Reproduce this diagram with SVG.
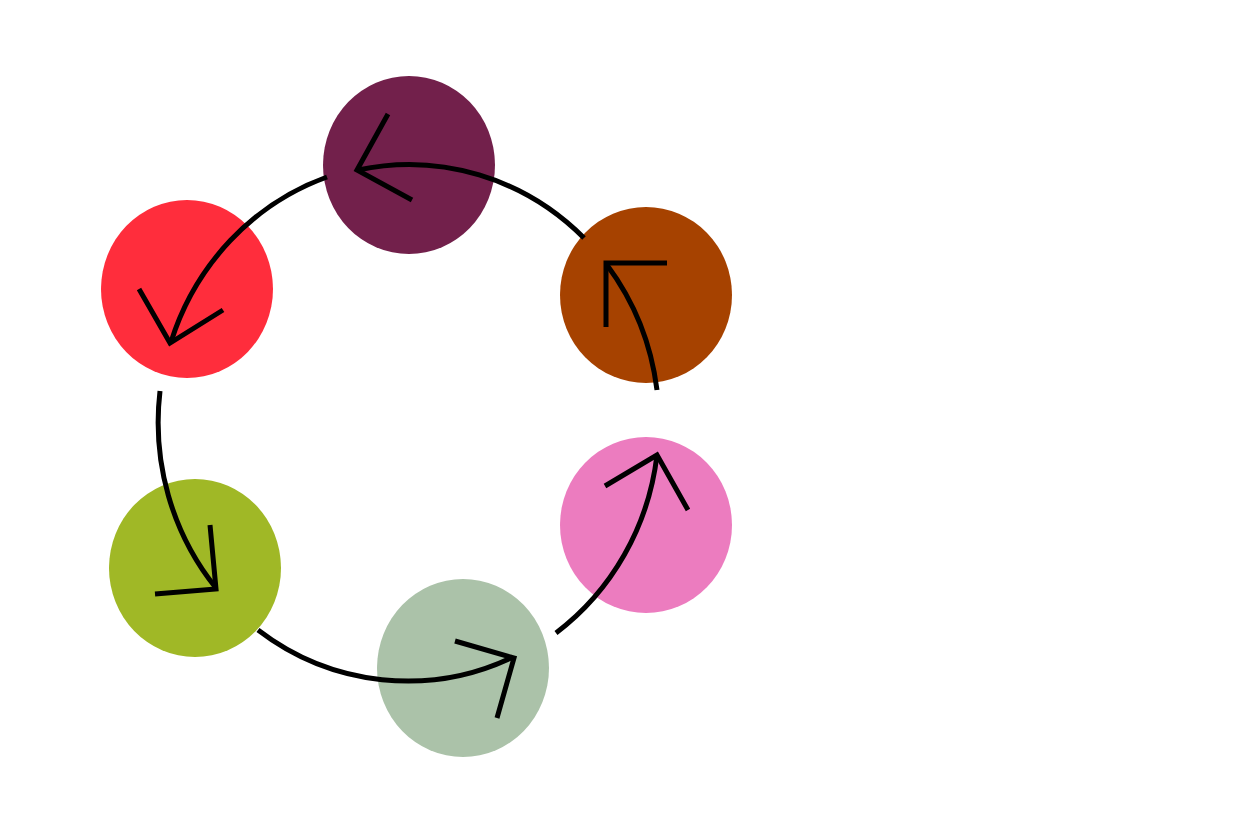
<svg xmlns="http://www.w3.org/2000/svg" width="1251" height="834" viewBox="0 0 1251 834">
<style>
.edge{fill:none;stroke:#000;stroke-width:5}
.head{fill:none;stroke:#000;stroke-width:5;stroke-linejoin:miter;stroke-miterlimit:10}
</style>
<rect width="1251" height="834" fill="#fff"/>
<g id="node-purple"><ellipse cx="409" cy="165" rx="86" ry="89" fill="#72204B"/></g>
<g id="node-orange"><ellipse cx="646" cy="295" rx="86" ry="88" fill="#A64200"/></g>
<g id="node-red"><ellipse cx="187" cy="289" rx="86" ry="89" fill="#FF2D3C"/></g>
<g id="node-olive"><ellipse cx="195" cy="568" rx="86" ry="89" fill="#A0B826"/></g>
<g id="node-sage"><ellipse cx="463" cy="668" rx="86" ry="89" fill="#ABC2A9"/></g>
<g id="node-pink"><ellipse cx="646" cy="525" rx="86" ry="88" fill="#EC7CBF"/></g>
<g id="connectors">
<path class="edge" d="M 584 238 A 251 259.5 0 0 0 358 170"/>
<polyline class="head" points="388,114 357,170 412,200"/>
<path class="edge" d="M 327 177 A 251 259.5 0 0 0 171 342"/>
<polyline class="head" points="139,289 170,343 223,310"/>
<path class="edge" d="M 160 391 A 251 259.5 0 0 0 216 588"/>
<polyline class="head" points="210,525 216,589 155,594"/>
<path class="edge" d="M 258 630 A 251 259.5 0 0 0 513 657"/>
<polyline class="head" points="455,641 514,658 497,718"/>
<path class="edge" d="M 556 633 A 251 259.5 0 0 0 657 455"/>
<polyline class="head" points="605,486 657,455 688,510"/>
<path class="edge" d="M 657 390 A 251 259.5 0 0 0 607 265"/>
<polyline class="head" points="606,327 606,263 667,263"/>
</g>
</svg>
